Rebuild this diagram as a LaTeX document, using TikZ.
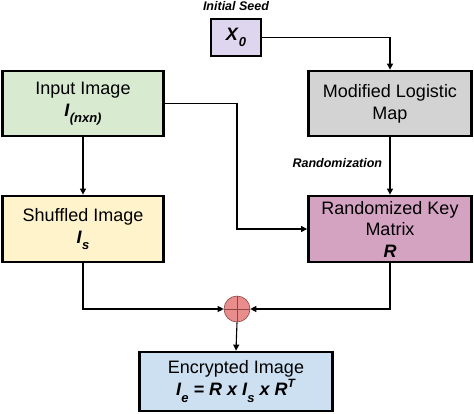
\documentclass[tikz,border=0pt]{standalone}
\usepackage{fontspec}
\setmainfont{Liberation Sans}
\usetikzlibrary{arrows.meta,calc}
\definecolor{seedfill}{RGB}{221,214,238}
\definecolor{inputfill}{RGB}{216,234,208}
\definecolor{mapfill}{RGB}{211,211,211}
\definecolor{shuffill}{RGB}{255,243,204}
\definecolor{keyfill}{RGB}{213,163,194}
\definecolor{encfill}{RGB}{204,224,242}
\definecolor{xorfill}{RGB}{232,140,140}
\definecolor{xordraw}{RGB}{140,70,70}
\newcommand{\bi}[1]{\textbf{\textit{#1}}}
\newcommand{\lowsub}[1]{\raisebox{-0.65ex}{\fontsize{13}{13}\selectfont\bi{#1}}}
\newcommand{\highsup}[1]{\raisebox{0.9ex}{\fontsize{12}{12}\selectfont\bi{#1}}}

\begin{document}
\begin{tikzpicture}[x=1pt, y=-1pt,
    blockbox/.style={draw=black, line width=2.8pt, align=center, inner sep=0pt,
        font=\fontsize{18}{22}\selectfont},
    conn/.style={line width=1.1pt, -{Triangle[width=6pt,length=6pt]}},
    tag/.style={font=\fontsize{12.5}{14}\selectfont\bfseries\itshape}]
    \useasboundingbox (0,0) rectangle (474,413);
    \node[blockbox, fill=seedfill, minimum width=50, minimum height=37] (seed) at (236,37.5) {\bi{X}\lowsub{0}};
    \node[blockbox, fill=inputfill, minimum width=161, minimum height=65] (input) at (83,103.5) {Input Image\\ \bi{I}\lowsub{(nxn)}};
    \node[blockbox, fill=mapfill, minimum width=163, minimum height=65] (map) at (390,103.5) {Modified Logistic\\ Map};
    \node[blockbox, fill=shuffill, minimum width=161, minimum height=66] (shuffled) at (83,229) {Shuffled Image\\ \bi{I}\lowsub{s}};
    \node[blockbox, fill=keyfill, minimum width=163, minimum height=66, font=\fontsize{18}{21.5}\selectfont] (keymat) at (390,229) {Randomized Key\\ Matrix\\ \bi{R}};
    \node[blockbox, fill=encfill, minimum width=193, minimum height=59] (encrypted) at (236,381.5) {Encrypted Image\\ \bi{I}\lowsub{e}\bi{ = R x I}\lowsub{s}\bi{ x R}\highsup{T}};
    \node[circle, draw=xordraw, line width=0.6pt, fill=xorfill, minimum size=26, inner sep=0pt] (xor) at (237,309) {};
    \draw[xordraw, line width=0.6pt] (xor.north) -- (xor.south) (xor.west) -- (xor.east);
    \node[tag] (seedtag) at (236,6) {Initial Seed};
    \coordinate (bend) at (xor.center |- keymat.west);
    \draw[conn] (seed.east) -| (map.north);
    \draw[conn] (map.south) -- (keymat.north) node[tag, pos=0.45, left=4pt] (randtag) {Randomization};
    \draw[conn] (input.south) -- (shuffled.north);
    \draw[conn] (input.east) -| (bend) -- (keymat.west);
    \draw[conn] (shuffled.south) |- (xor.west);
    \draw[conn] (keymat.south) |- (xor.east);
    \draw[conn] (xor.south) -- (encrypted.north);
\end{tikzpicture}
\end{document}
